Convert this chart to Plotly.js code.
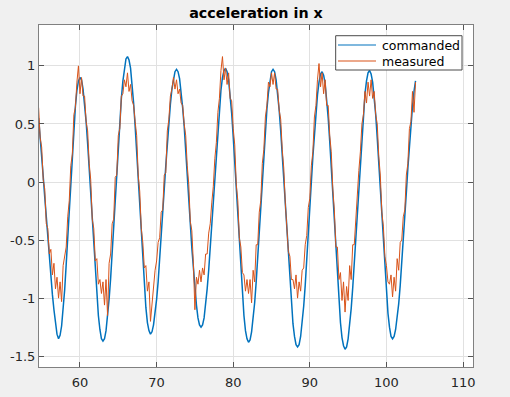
<!DOCTYPE html>
<html>
<head>
<meta charset="utf-8">
<script src="https://cdn.plot.ly/plotly-3.0.1.min.js"></script>
<style>
html,body{margin:0;padding:0;background:#f0f0f0;}
#chart{width:510px;height:397px;}
</style>
</head>
<body>
<div id="chart"></div>
<script>
// time samples (x)
var t = [
54.6,54.8,
55.0,55.2,55.4,55.6,55.8, 56.0,56.2,56.4,56.6,56.8, 57.0,57.2,57.4,57.6,57.8, 58.0,58.2,58.4,58.6,58.8, 59.0,59.2,59.4,59.6,59.8,
60.0,60.2,60.4,60.6,60.8, 61.0,61.2,61.4,61.6,61.8, 62.0,62.2,62.4,62.6,62.8, 63.0,63.2,63.4,63.6,63.8, 64.0,64.2,64.4,64.6,64.8,
65.0,65.2,65.4,65.6,65.8, 66.0,66.2,66.4,66.6,66.8, 67.0,67.2,67.4,67.6,67.8, 68.0,68.2,68.4,68.6,68.8, 69.0,69.2,69.4,69.6,69.8,
70.0,70.2,70.4,70.6,70.8, 71.0,71.2,71.4,71.6,71.8, 72.0,72.2,72.4,72.6,72.8, 73.0,73.2,73.4,73.6,73.8, 74.0,74.2,74.4,74.6,74.8,
75.0,75.2,75.4,75.6,75.8, 76.0,76.2,76.4,76.6,76.8, 77.0,77.2,77.4,77.6,77.8, 78.0,78.2,78.4,78.6,78.8, 79.0,79.2,79.4,79.6,79.8,
80.0,80.2,80.4,80.6,80.8, 81.0,81.2,81.4,81.6,81.8, 82.0,82.2,82.4,82.6,82.8, 83.0,83.2,83.4,83.6,83.8, 84.0,84.2,84.4,84.6,84.8,
85.0,85.2,85.4,85.6,85.8, 86.0,86.2,86.4,86.6,86.8, 87.0,87.2,87.4,87.6,87.8, 88.0,88.2,88.4,88.6,88.8, 89.0,89.2,89.4,89.6,89.8,
90.0,90.2,90.4,90.6,90.8, 91.0,91.2,91.4,91.6,91.8, 92.0,92.2,92.4,92.6,92.8, 93.0,93.2,93.4,93.6,93.8, 94.0,94.2,94.4,94.6,94.8,
95.0,95.2,95.4,95.6,95.8, 96.0,96.2,96.4,96.6,96.8, 97.0,97.2,97.4,97.6,97.8, 98.0,98.2,98.4,98.6,98.8, 99.0,99.2,99.4,99.6,99.8,
100.0,100.2,100.4,100.6,100.8, 101.0,101.2,101.4,101.6,101.8, 102.0,102.2,102.4,102.6,102.8, 103.0,103.2,103.4,103.6,103.8
];

// commanded acceleration
var commanded = [
0.55,0.40,
0.23,0.05,-0.13,-0.31,-0.49, -0.66,-0.82,-0.97,-1.10,-1.22, -1.31,-1.35,-1.32,-1.24,-1.10, -0.93,-0.71,-0.48,-0.23,0.03, 0.26,0.48,0.65,0.79,0.87,
0.90,0.88,0.80,0.68,0.52, 0.33,0.12,-0.12,-0.35,-0.59, -0.80,-0.99,-1.15,-1.27,-1.35, -1.37,-1.35,-1.28,-1.16,-1.01, -0.83,-0.61,-0.38,-0.15,0.09,
0.32,0.54,0.72,0.87,0.99, 1.06,1.08,1.05,0.98,0.85, 0.68,0.48,0.25,0.01,-0.24, -0.48,-0.71,-0.91,-1.08,-1.21, -1.28,-1.31,-1.29,-1.23,-1.14,
-1.01,-0.86,-0.68,-0.48,-0.27, -0.06,0.14,0.34,0.52,0.67, 0.80,0.89,0.95,0.97,0.95, 0.89,0.78,0.64,0.48,0.29, 0.08,-0.14,-0.36,-0.57,-0.76,
-0.92,-1.06,-1.17,-1.23,-1.25, -1.23,-1.17,-1.06,-0.92,-0.76, -0.56,-0.35,-0.14,0.08,0.29, 0.49,0.65,0.79,0.90,0.96, 0.98,0.95,0.88,0.75,0.59,
0.39,0.16,-0.08,-0.32,-0.56, -0.79,-0.99,-1.15,-1.28,-1.35, -1.38,-1.36,-1.29,-1.18,-1.04, -0.86,-0.65,-0.43,-0.21,0.02, 0.25,0.45,0.63,0.77,0.88,
0.95,0.97,0.95,0.88,0.77, 0.62,0.44,0.23,0.01,-0.23, -0.46,-0.68,-0.89,-1.07,-1.22, -1.33,-1.40,-1.42,-1.40,-1.33, -1.22,-1.07,-0.89,-0.69,-0.47,
-0.24,0.00,0.22,0.42,0.60, 0.75,0.86,0.93,0.95,0.92, 0.85,0.72,0.55,0.35,0.12, -0.12,-0.37,-0.61,-0.84,-1.04, -1.21,-1.34,-1.41,-1.44,-1.42,
-1.35,-1.24,-1.09,-0.91,-0.70, -0.47,-0.24,-0.01,0.22,0.43, 0.61,0.76,0.87,0.94,0.96, 0.93,0.86,0.74,0.58,0.38, 0.16,-0.07,-0.32,-0.55,-0.77,
-0.97,-1.13,-1.25,-1.33,-1.35, -1.33,-1.27,-1.18,-1.05,-0.89, -0.71,-0.52,-0.31,-0.09,0.12, 0.31,0.49,0.65,0.78,0.87
];

// measured acceleration
var measured = [
0.64,0.38,
0.30,0.02,-0.06,-0.36,-0.40, -0.62,-0.58,-0.80,-0.70,-0.92, -0.82,-1.00,-0.86,-1.03,-0.72, -0.64,-0.56,-0.30,-0.16,0.14, 0.24,0.58,0.64,0.86,1.00,
0.76,0.90,0.74,0.74,0.52, 0.44,0.16,0.02,-0.32,-0.40, -0.68,-0.66,-0.88,-0.84,-0.96, -0.86,-1.06,-0.84,-1.15,-0.70, -0.62,-0.36,-0.32,0.04,0.06,
0.40,0.46,0.74,0.76,0.88, 0.82,0.94,0.78,0.84,0.70, 0.66,0.52,0.40,0.06,-0.08, -0.40,-0.52,-0.74,-0.72,-0.94, -0.86,-1.20,-1.04,-0.92,-0.76,
-0.68,-0.52,-0.48,-0.26,-0.24, 0.06,0.08,0.44,0.54,0.74, 0.80,0.90,0.80,0.88,0.76, 0.80,0.68,0.66,0.50,0.40, 0.14,-0.02,-0.34,-0.42,-0.70,
-1.10,-0.82,-0.88,-0.76,-0.86, -0.74,-0.80,-0.62,-0.62,-0.44, -0.36,-0.18,-0.04,0.20,0.34, 0.60,0.72,0.96,1.08,0.88, 0.98,0.84,0.94,0.72,0.70,
0.46,0.32,-0.02,-0.16,-0.48, -0.56,-0.78,-0.80,-0.94,-0.84, -0.96,-0.84,-1.04,-0.76,-0.86, -0.54,-0.54,-0.26,-0.16,0.16, 0.28,0.56,0.66,0.86,0.82,
0.94,0.84,0.94,0.80,0.80, 0.62,0.54,0.28,0.12,-0.18, -0.36,-0.60,-0.64,-0.84,-0.84, -0.92,-0.80,-1.00,-0.86,-0.94, -0.76,-0.74,-0.54,-0.46,-0.22,
-0.14,0.14,0.26,0.56,0.66, 0.88,1.02,0.82,0.94,0.76, 0.88,0.66,0.66,0.40,0.26, -0.06,-0.24,-0.56,-0.56,-0.84, -0.78,-1.02,-0.86,-1.12,-0.90,
-1.02,-0.72,-0.84,-0.54,-0.54, -0.30,-0.16,0.10,0.26,0.50, 0.58,0.78,0.68,0.86,0.74, 0.88,0.72,0.78,0.58,0.50, 0.22,0.06,-0.26,-0.38,-0.64,
-0.72,-0.86,-0.88,-0.80,-0.99, -0.82,-0.94,-0.66,-0.76,-0.52, -0.50,-0.30,-0.24,0.06,0.16, 0.46,0.52,0.78,0.60,0.86
];

var xTicks = [60, 70, 80, 90, 100, 110];
var yTicks = [-1.5, -1, -0.5, 0, 0.5, 1];
var yTickText = ['-1.5', '-1', '-0.5', '0', '0.5', '1'];
var seriesNames = ['commanded', 'measured'];
var seriesColors = ['#0072BD', '#D95319'];

var traces = [
  {x: t, y: commanded, name: seriesNames[0], type: 'scatter', mode: 'lines',
   line: {color: seriesColors[0], width: 1.5}},
  {x: t, y: measured, name: seriesNames[1], type: 'scatter', mode: 'lines',
   line: {color: seriesColors[1], width: 1}}
];

var axisCommon = {
  showline: true, linecolor: '#808080', linewidth: 1, mirror: 'ticks',
  ticks: 'inside', ticklen: 5, tickcolor: '#555555', tickwidth: 1,
  showgrid: true, gridcolor: '#e1e1e1', gridwidth: 1, zeroline: false,
  tickfont: {family: 'DejaVu Sans', size: 13, color: '#262626'}
};

// legend box drawn in paper coordinates (plot area fractions)
var legBox = {x0: 0.6836, x1: 0.9747, y0: 0.8684, y1: 0.9687};
var legRowsY = [0.9415, 0.8947];
var legLineX = [0.6889, 0.7765];
var legTextX = 0.7857;

var shapes = [
  {type: 'rect', xref: 'paper', yref: 'paper', x0: legBox.x0, x1: legBox.x1, y0: legBox.y0, y1: legBox.y1,
   fillcolor: '#ffffff', line: {color: '#4a4a4a', width: 1}, layer: 'above'}
];
var annotations = [];
seriesNames.forEach(function (nm, i) {
  shapes.push({type: 'line', xref: 'paper', yref: 'paper', x0: legLineX[0], x1: legLineX[1],
               y0: legRowsY[i], y1: legRowsY[i], line: {color: seriesColors[i], width: 1.2}, layer: 'above'});
  annotations.push({xref: 'paper', yref: 'paper', x: legTextX, y: legRowsY[i], xanchor: 'left', yanchor: 'middle',
                    text: nm, showarrow: false,
                    font: {family: 'DejaVu Sans', size: 12.5, color: '#000000'}});
});

var layout = {
  width: 510, height: 397,
  paper_bgcolor: '#f0f0f0', plot_bgcolor: '#ffffff',
  margin: {l: 39, r: 37, t: 25, b: 30},
  title: {text: 'acceleration in x', x: 0.502, xanchor: 'center', y: 1 - 13/397, yanchor: 'middle',
          font: {family: 'DejaVu Sans', size: 14.3, color: '#000000', weight: 'bold'}},
  xaxis: Object.assign({}, axisCommon, {range: [54.65, 111.3], tickvals: xTicks, ticktext: xTicks.map(String), ticklabelstandoff: 3}),
  yaxis: Object.assign({}, axisCommon, {range: [-1.593, 1.352], tickvals: yTicks, ticktext: yTickText}),
  showlegend: false,
  shapes: shapes,
  annotations: annotations
};

Plotly.newPlot('chart', traces, layout, {displayModeBar: false, staticPlot: true});
</script>
</body>
</html>
